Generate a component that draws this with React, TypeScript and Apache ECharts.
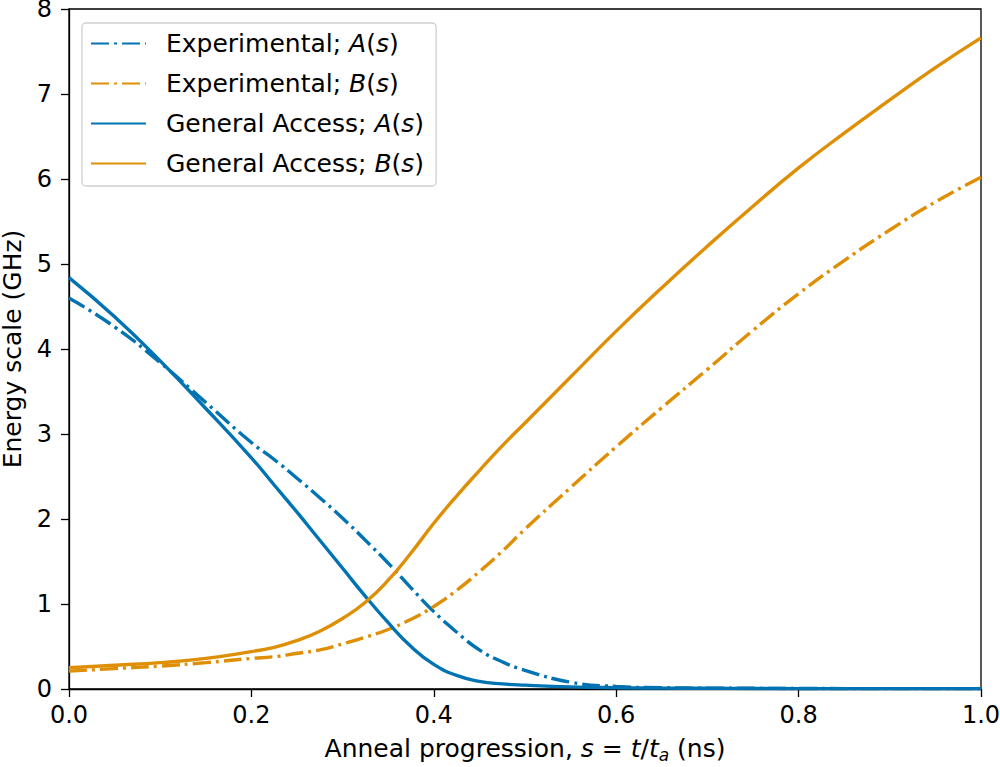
import { useEffect, useRef } from 'react';
import * as echarts from 'echarts';

// anneal fraction s and the four schedules (GHz)
const sValues = [0, 0.05, 0.1, 0.15, 0.2, 0.225, 0.25, 0.275, 0.3, 0.325, 0.35, 0.375, 0.4, 0.425, 0.45, 0.475, 0.5, 0.55, 0.6, 0.65, 0.7, 0.75, 0.8, 0.85, 0.9, 0.95, 1.0];
const expA = [4.6, 4.26, 3.84, 3.37, 2.9, 2.7, 2.48, 2.25, 2.01, 1.75, 1.48, 1.19, 0.91, 0.67, 0.46, 0.32, 0.22, 0.08, 0.03, 0.015, 0.01, 0.008, 0.006, 0.005, 0.005, 0.005, 0.005];
const expB = [0.21, 0.24, 0.27, 0.31, 0.36, 0.38, 0.42, 0.46, 0.53, 0.61, 0.7, 0.82, 0.97, 1.16, 1.38, 1.62, 1.88, 2.37, 2.85, 3.31, 3.76, 4.22, 4.65, 5.04, 5.4, 5.73, 6.02];
const gaA = [4.84, 4.38, 3.86, 3.3, 2.72, 2.4, 2.08, 1.75, 1.42, 1.09, 0.78, 0.5, 0.29, 0.16, 0.09, 0.06, 0.045, 0.025, 0.015, 0.01, 0.008, 0.006, 0.005, 0.005, 0.005, 0.005, 0.005];
const gaB = [0.25, 0.28, 0.31, 0.36, 0.44, 0.49, 0.57, 0.68, 0.83, 1.02, 1.28, 1.6, 1.95, 2.27, 2.57, 2.86, 3.13, 3.67, 4.21, 4.72, 5.21, 5.68, 6.13, 6.54, 6.93, 7.31, 7.66];

const xTicks = [0, 0.2, 0.4, 0.6, 0.8, 1.0];
const yTicks = [0, 1, 2, 3, 4, 5, 6, 7, 8];

const BLUE = '#0173b2';
const ORANGE = '#de8f05';
const FONT = 'DejaVu Sans';
const dashDot = [18, 5, 3, 5];

const pairs = (ys: number[]) => sValues.map((s, i) => [s, ys[i]]);

export default function App(): JSX.Element {
  const chartRef = useRef<HTMLDivElement>(null);

  useEffect(() => {
    if (!chartRef.current) return;
    const chart = echarts.init(chartRef.current, undefined, { renderer: 'svg' });

    const line = (name: string, ys: number[], color: string, dashed: boolean) => ({
      name,
      type: 'line',
      data: pairs(ys),
      smooth: 0.5,
      symbol: 'none',
      lineStyle: { color, width: 3.4, type: dashed ? dashDot : 'solid' },
      itemStyle: { color },
    });

    const rich = {
      n: { fontFamily: FONT, fontSize: 25, color: '#000' },
      i: { fontFamily: FONT, fontSize: 25, fontStyle: 'italic', color: '#000' },
      sub: { fontFamily: FONT, fontSize: 17, fontStyle: 'italic', color: '#000', padding: [12, 0, 0, 0] },
    };

    const option: any = {
      animation: false,
      grid: {
        left: 69,
        right: 19,
        top: 9,
        bottom: 78,
        show: true,
        borderColor: '#000',
        borderWidth: 1.3,
        containLabel: false,
        outerBoundsMode: 'none',
      },
      legend: {
        left: 82,
        top: 23,
        orient: 'vertical',
        itemWidth: 55,
        itemHeight: 14,
        itemGap: 11,
        padding: [6, 12, 8, 8],
        backgroundColor: 'rgba(255,255,255,0.85)',
        borderColor: '#d0d0d0',
        borderWidth: 1.3,
        borderRadius: 4,
        itemStyle: { opacity: 0 },
        textStyle: { fontFamily: FONT, fontSize: 25, color: '#000', padding: [0, 0, 0, 15], lineHeight: 29, rich },
        formatter: (name: string) => {
          const [label, fn] = name.split('|');
          return `{n|${label}; }{i|${fn}}{n|(}{i|s}{n|)}`;
        },
        data: ['Experimental|A', 'Experimental|B', 'General Access|A', 'General Access|B'],
      },
      xAxis: {
        type: 'value',
        min: 0,
        max: 1,
        interval: 0.2,
        axisLine: { show: true, lineStyle: { color: '#000', width: 1.3 } },
        axisTick: { show: true, inside: false, length: 8, lineStyle: { color: '#000', width: 1.3 } },
        splitLine: { show: false },
        axisLabel: {
          fontFamily: FONT,
          fontSize: 24,
          color: '#000',
          margin: 14,
          formatter: (v: number) => (xTicks.includes(Math.round(v * 10) / 10) ? v.toFixed(1) : ''),
        },
        name: '{n|Anneal progression, }{i|s}{n| = }{i|t}{n|/}{i|t}{sub|a}{n| (ns)}',
        nameLocation: 'middle',
        nameGap: 45,
        nameTextStyle: { rich },
      },
      yAxis: {
        type: 'value',
        min: 0,
        max: 8,
        interval: 1,
        axisLine: { show: true, lineStyle: { color: '#000', width: 1.3 } },
        axisTick: { show: true, inside: false, length: 8, lineStyle: { color: '#000', width: 1.3 } },
        splitLine: { show: false },
        axisLabel: {
          fontFamily: FONT,
          fontSize: 24,
          lineHeight: 18,
          color: '#000',
          margin: 17,
          formatter: (v: number) => (yTicks.includes(v) ? String(v) : ''),
        },
        name: 'Energy scale (GHz)',
        nameLocation: 'middle',
        nameGap: 43,
        nameTextStyle: { fontFamily: FONT, fontSize: 25, lineHeight: 26, color: '#000' },
      },
      series: [
        line('Experimental|A', expA, BLUE, true),
        line('Experimental|B', expB, ORANGE, true),
        line('General Access|A', gaA, BLUE, false),
        line('General Access|B', gaB, ORANGE, false),
      ],
    };

    chart.setOption(option);

    return () => {
      chart.dispose();
    };
  }, []);

  return (
    <div
      ref={chartRef}
      style={{ position: 'fixed', left: 0, top: 0, width: 1000, height: 767, background: '#fff' }}
    />
  );
}
